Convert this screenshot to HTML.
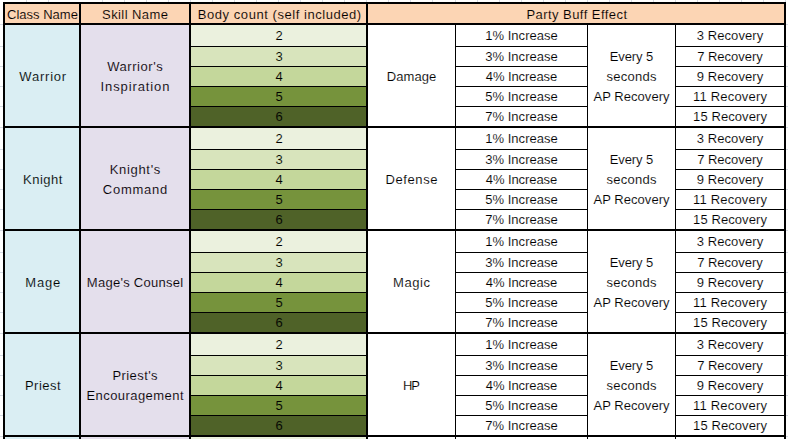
<!DOCTYPE html>
<html lang="en">
<head>
<meta charset="utf-8">
<title>Party Buff Effect</title>
<style>
html,body{margin:0;padding:0;}
body{width:788px;height:439px;overflow:hidden;background:#fff;position:relative;
 font-family:"Liberation Sans",sans-serif;font-size:13px;color:#000;}
.c{--bg:#fff;background:var(--bg);-webkit-text-stroke:0.12px var(--bg);position:absolute;display:flex;align-items:center;justify-content:center;text-align:center;white-space:nowrap;line-height:20px;}
.l{position:absolute;background:#000;}
.g{position:absolute;background:#d6dbe4;}
.hd{--bg:#FCD5B4;}
.cl{--bg:#DAEEF3;}
.sk{--bg:#E4DFEC;}
.d1{position:relative;top:1px;}
</style>
</head>
<body>
<div class="c hd" style="left:5px;top:4px;width:74px;height:19px;"><div class="d1" style="padding-left:1.0px">Class Name</div></div>
<div class="c hd" style="left:81px;top:4px;width:108px;height:19px;"><div class="d1"><span style="letter-spacing:0.41px;margin-right:-0.41px">Skill Name</span></div></div>
<div class="c hd" style="left:191px;top:4px;width:175px;height:19px;"><div class="d1" style="padding-left:2px"><span style="letter-spacing:0.55px;margin-right:-0.55px">Body count (self included)</span></div></div>
<div class="c hd" style="left:368px;top:4px;width:416px;height:19px;"><div class="d1" style="padding-left:1.5px"><span style="letter-spacing:0.44px;margin-right:-0.44px">Party Buff Effect</span></div></div>
<div class="c cl" style="left:5px;top:25px;width:74px;height:101px;"><div class="d1" style="padding-left:1.5px"><span style="letter-spacing:0.79px;margin-right:-0.79px">Warrior</span></div></div>
<div class="c sk" style="left:81px;top:25px;width:108px;height:101px;"><div class="d1"><span style="letter-spacing:0.56px;margin-right:-0.56px">Warrior's</span><br><span style="letter-spacing:0.88px;margin-right:-0.88px">Inspiration</span></div></div>
<div class="c " style="left:191px;top:25px;width:175px;height:21px;--bg:#EBF1DE;"><div style="padding-left:1.0px">2</div></div>
<div class="c " style="left:456px;top:25px;width:131px;height:21px;"><div><span style="letter-spacing:0.02px;margin-right:-0.02px">1% Increase</span></div></div>
<div class="c " style="left:676px;top:25px;width:108px;height:21px;"><div><span style="letter-spacing:0.06px;margin-right:-0.06px">3 Recovery</span></div></div>
<div class="c " style="left:191px;top:47px;width:175px;height:19px;--bg:#D8E4BC;"><div style="padding-left:1.0px">3</div></div>
<div class="c " style="left:456px;top:47px;width:131px;height:19px;"><div><span style="letter-spacing:0.02px;margin-right:-0.02px">3% Increase</span></div></div>
<div class="c " style="left:676px;top:47px;width:108px;height:19px;"><div><span style="letter-spacing:-0.02px;margin-right:0.02px">7 Recovery</span></div></div>
<div class="c " style="left:191px;top:67px;width:175px;height:19px;--bg:#C4D79B;"><div style="padding-left:1.0px">4</div></div>
<div class="c " style="left:456px;top:67px;width:131px;height:19px;"><div><span style="letter-spacing:-0.08px;margin-right:0.08px">4% Increase</span></div></div>
<div class="c " style="left:676px;top:67px;width:108px;height:19px;"><div><span style="letter-spacing:0.06px;margin-right:-0.06px">9 Recovery</span></div></div>
<div class="c " style="left:191px;top:87px;width:175px;height:19px;--bg:#76933C;"><div style="padding-left:1.0px">5</div></div>
<div class="c " style="left:456px;top:87px;width:131px;height:19px;"><div><span style="letter-spacing:0.02px;margin-right:-0.02px">5% Increase</span></div></div>
<div class="c " style="left:676px;top:87px;width:108px;height:19px;"><div><span style="letter-spacing:0.18px;margin-right:-0.18px">11 Recovery</span></div></div>
<div class="c " style="left:191px;top:107px;width:175px;height:19px;--bg:#4F6228;"><div style="padding-left:1.0px">6</div></div>
<div class="c " style="left:456px;top:107px;width:131px;height:19px;"><div><span style="letter-spacing:0.02px;margin-right:-0.02px">7% Increase</span></div></div>
<div class="c " style="left:676px;top:107px;width:108px;height:19px;"><div><span style="letter-spacing:0.08px;margin-right:-0.08px">15 Recovery</span></div></div>
<div class="c " style="left:368px;top:25px;width:87px;height:101px;"><div class="d1"><span style="letter-spacing:0.1px;margin-right:-0.1px">Damage</span></div></div>
<div class="c " style="left:588px;top:25px;width:87px;height:101px;"><div class="d1"><span style="letter-spacing:-0.12px;margin-right:0.12px">Every 5</span><br><span style="letter-spacing:0.27px;margin-right:-0.27px">seconds</span><br><span style="letter-spacing:0.05px;margin-right:-0.05px">AP Recovery</span></div></div>
<div class="c cl" style="left:5px;top:128px;width:74px;height:101px;"><div class="d1" style="padding-left:1.5px"><span style="letter-spacing:0.5px;margin-right:-0.5px">Knight</span></div></div>
<div class="c sk" style="left:81px;top:128px;width:108px;height:101px;"><div class="d1"><span style="letter-spacing:0.68px;margin-right:-0.68px">Knight's</span><br><span style="letter-spacing:0.75px;margin-right:-0.75px">Command</span></div></div>
<div class="c " style="left:191px;top:128px;width:175px;height:21px;--bg:#EBF1DE;"><div style="padding-left:1.0px">2</div></div>
<div class="c " style="left:456px;top:128px;width:131px;height:21px;"><div><span style="letter-spacing:0.02px;margin-right:-0.02px">1% Increase</span></div></div>
<div class="c " style="left:676px;top:128px;width:108px;height:21px;"><div><span style="letter-spacing:0.06px;margin-right:-0.06px">3 Recovery</span></div></div>
<div class="c " style="left:191px;top:150px;width:175px;height:19px;--bg:#D8E4BC;"><div style="padding-left:1.0px">3</div></div>
<div class="c " style="left:456px;top:150px;width:131px;height:19px;"><div><span style="letter-spacing:0.02px;margin-right:-0.02px">3% Increase</span></div></div>
<div class="c " style="left:676px;top:150px;width:108px;height:19px;"><div><span style="letter-spacing:-0.02px;margin-right:0.02px">7 Recovery</span></div></div>
<div class="c " style="left:191px;top:170px;width:175px;height:19px;--bg:#C4D79B;"><div style="padding-left:1.0px">4</div></div>
<div class="c " style="left:456px;top:170px;width:131px;height:19px;"><div><span style="letter-spacing:-0.08px;margin-right:0.08px">4% Increase</span></div></div>
<div class="c " style="left:676px;top:170px;width:108px;height:19px;"><div><span style="letter-spacing:0.06px;margin-right:-0.06px">9 Recovery</span></div></div>
<div class="c " style="left:191px;top:190px;width:175px;height:19px;--bg:#76933C;"><div style="padding-left:1.0px">5</div></div>
<div class="c " style="left:456px;top:190px;width:131px;height:19px;"><div><span style="letter-spacing:0.02px;margin-right:-0.02px">5% Increase</span></div></div>
<div class="c " style="left:676px;top:190px;width:108px;height:19px;"><div><span style="letter-spacing:0.18px;margin-right:-0.18px">11 Recovery</span></div></div>
<div class="c " style="left:191px;top:210px;width:175px;height:19px;--bg:#4F6228;"><div style="padding-left:1.0px">6</div></div>
<div class="c " style="left:456px;top:210px;width:131px;height:19px;"><div><span style="letter-spacing:0.02px;margin-right:-0.02px">7% Increase</span></div></div>
<div class="c " style="left:676px;top:210px;width:108px;height:19px;"><div><span style="letter-spacing:0.08px;margin-right:-0.08px">15 Recovery</span></div></div>
<div class="c " style="left:368px;top:128px;width:87px;height:101px;"><div class="d1"><span style="letter-spacing:0.6px;margin-right:-0.6px">Defense</span></div></div>
<div class="c " style="left:588px;top:128px;width:87px;height:101px;"><div class="d1"><span style="letter-spacing:-0.12px;margin-right:0.12px">Every 5</span><br><span style="letter-spacing:0.27px;margin-right:-0.27px">seconds</span><br><span style="letter-spacing:0.05px;margin-right:-0.05px">AP Recovery</span></div></div>
<div class="c cl" style="left:5px;top:231px;width:74px;height:101px;"><div class="d1" style="padding-left:1.5px"><span style="letter-spacing:0.75px;margin-right:-0.75px">Mage</span></div></div>
<div class="c sk" style="left:81px;top:231px;width:108px;height:101px;"><div class="d1"><span style="letter-spacing:0.27px;margin-right:-0.27px">Mage's Counsel</span></div></div>
<div class="c " style="left:191px;top:231px;width:175px;height:21px;--bg:#EBF1DE;"><div style="padding-left:1.0px">2</div></div>
<div class="c " style="left:456px;top:231px;width:131px;height:21px;"><div><span style="letter-spacing:0.02px;margin-right:-0.02px">1% Increase</span></div></div>
<div class="c " style="left:676px;top:231px;width:108px;height:21px;"><div><span style="letter-spacing:0.06px;margin-right:-0.06px">3 Recovery</span></div></div>
<div class="c " style="left:191px;top:253px;width:175px;height:19px;--bg:#D8E4BC;"><div style="padding-left:1.0px">3</div></div>
<div class="c " style="left:456px;top:253px;width:131px;height:19px;"><div><span style="letter-spacing:0.02px;margin-right:-0.02px">3% Increase</span></div></div>
<div class="c " style="left:676px;top:253px;width:108px;height:19px;"><div><span style="letter-spacing:-0.02px;margin-right:0.02px">7 Recovery</span></div></div>
<div class="c " style="left:191px;top:273px;width:175px;height:19px;--bg:#C4D79B;"><div style="padding-left:1.0px">4</div></div>
<div class="c " style="left:456px;top:273px;width:131px;height:19px;"><div><span style="letter-spacing:-0.08px;margin-right:0.08px">4% Increase</span></div></div>
<div class="c " style="left:676px;top:273px;width:108px;height:19px;"><div><span style="letter-spacing:0.06px;margin-right:-0.06px">9 Recovery</span></div></div>
<div class="c " style="left:191px;top:293px;width:175px;height:19px;--bg:#76933C;"><div style="padding-left:1.0px">5</div></div>
<div class="c " style="left:456px;top:293px;width:131px;height:19px;"><div><span style="letter-spacing:0.02px;margin-right:-0.02px">5% Increase</span></div></div>
<div class="c " style="left:676px;top:293px;width:108px;height:19px;"><div><span style="letter-spacing:0.18px;margin-right:-0.18px">11 Recovery</span></div></div>
<div class="c " style="left:191px;top:313px;width:175px;height:19px;--bg:#4F6228;"><div style="padding-left:1.0px">6</div></div>
<div class="c " style="left:456px;top:313px;width:131px;height:19px;"><div><span style="letter-spacing:0.02px;margin-right:-0.02px">7% Increase</span></div></div>
<div class="c " style="left:676px;top:313px;width:108px;height:19px;"><div><span style="letter-spacing:0.08px;margin-right:-0.08px">15 Recovery</span></div></div>
<div class="c " style="left:368px;top:231px;width:87px;height:101px;"><div class="d1"><span style="letter-spacing:0.6px;margin-right:-0.6px">Magic</span></div></div>
<div class="c " style="left:588px;top:231px;width:87px;height:101px;"><div class="d1"><span style="letter-spacing:-0.12px;margin-right:0.12px">Every 5</span><br><span style="letter-spacing:0.27px;margin-right:-0.27px">seconds</span><br><span style="letter-spacing:0.05px;margin-right:-0.05px">AP Recovery</span></div></div>
<div class="c cl" style="left:5px;top:334px;width:74px;height:101px;"><div class="d1" style="padding-left:1.5px"><span style="letter-spacing:0.5px;margin-right:-0.5px">Priest</span></div></div>
<div class="c sk" style="left:81px;top:334px;width:108px;height:101px;"><div class="d1"><span style="letter-spacing:0.43px;margin-right:-0.43px">Priest's</span><br><span style="letter-spacing:0.44px;margin-right:-0.44px">Encouragement</span></div></div>
<div class="c " style="left:191px;top:334px;width:175px;height:21px;--bg:#EBF1DE;"><div style="padding-left:1.0px">2</div></div>
<div class="c " style="left:456px;top:334px;width:131px;height:21px;"><div><span style="letter-spacing:0.02px;margin-right:-0.02px">1% Increase</span></div></div>
<div class="c " style="left:676px;top:334px;width:108px;height:21px;"><div><span style="letter-spacing:0.06px;margin-right:-0.06px">3 Recovery</span></div></div>
<div class="c " style="left:191px;top:356px;width:175px;height:19px;--bg:#D8E4BC;"><div style="padding-left:1.0px">3</div></div>
<div class="c " style="left:456px;top:356px;width:131px;height:19px;"><div><span style="letter-spacing:0.02px;margin-right:-0.02px">3% Increase</span></div></div>
<div class="c " style="left:676px;top:356px;width:108px;height:19px;"><div><span style="letter-spacing:-0.02px;margin-right:0.02px">7 Recovery</span></div></div>
<div class="c " style="left:191px;top:376px;width:175px;height:19px;--bg:#C4D79B;"><div style="padding-left:1.0px">4</div></div>
<div class="c " style="left:456px;top:376px;width:131px;height:19px;"><div><span style="letter-spacing:-0.08px;margin-right:0.08px">4% Increase</span></div></div>
<div class="c " style="left:676px;top:376px;width:108px;height:19px;"><div><span style="letter-spacing:0.06px;margin-right:-0.06px">9 Recovery</span></div></div>
<div class="c " style="left:191px;top:396px;width:175px;height:19px;--bg:#76933C;"><div style="padding-left:1.0px">5</div></div>
<div class="c " style="left:456px;top:396px;width:131px;height:19px;"><div><span style="letter-spacing:0.02px;margin-right:-0.02px">5% Increase</span></div></div>
<div class="c " style="left:676px;top:396px;width:108px;height:19px;"><div><span style="letter-spacing:0.18px;margin-right:-0.18px">11 Recovery</span></div></div>
<div class="c " style="left:191px;top:416px;width:175px;height:19px;--bg:#4F6228;"><div style="padding-left:1.0px">6</div></div>
<div class="c " style="left:456px;top:416px;width:131px;height:19px;"><div><span style="letter-spacing:0.02px;margin-right:-0.02px">7% Increase</span></div></div>
<div class="c " style="left:676px;top:416px;width:108px;height:19px;"><div><span style="letter-spacing:0.08px;margin-right:-0.08px">15 Recovery</span></div></div>
<div class="c " style="left:368px;top:334px;width:87px;height:101px;"><div class="d1"><span style="letter-spacing:-1.0px;margin-right:1.0px">HP</span></div></div>
<div class="c " style="left:588px;top:334px;width:87px;height:101px;"><div class="d1"><span style="letter-spacing:-0.12px;margin-right:0.12px">Every 5</span><br><span style="letter-spacing:0.27px;margin-right:-0.27px">seconds</span><br><span style="letter-spacing:0.05px;margin-right:-0.05px">AP Recovery</span></div></div>
<div class="c cl" style="left:5px;top:437px;width:74px;height:101px;"><div class="d1" style="padding-left:1.5px"></div></div>
<div class="c sk" style="left:81px;top:437px;width:108px;height:101px;"><div class="d1"></div></div>
<div class="c " style="left:191px;top:437px;width:175px;height:21px;--bg:#EBF1DE;"><div></div></div>
<div class="c " style="left:191px;top:459px;width:175px;height:19px;--bg:#D8E4BC;"><div></div></div>
<div class="c " style="left:191px;top:479px;width:175px;height:19px;--bg:#C4D79B;"><div></div></div>
<div class="c " style="left:191px;top:499px;width:175px;height:19px;--bg:#76933C;"><div></div></div>
<div class="c " style="left:191px;top:519px;width:175px;height:19px;--bg:#4F6228;"><div></div></div>
<div class="g" style="left:26px;top:0px;width:1px;height:2px"></div>
<div class="g" style="left:48px;top:0px;width:1px;height:2px"></div>
<div class="g" style="left:102px;top:0px;width:1px;height:2px"></div>
<div class="g" style="left:124px;top:0px;width:1px;height:2px"></div>
<div class="g" style="left:146px;top:0px;width:1px;height:2px"></div>
<div class="g" style="left:168px;top:0px;width:1px;height:2px"></div>
<div class="g" style="left:190px;top:0px;width:1px;height:2px"></div>
<div class="g" style="left:212px;top:0px;width:1px;height:2px"></div>
<div class="g" style="left:234px;top:0px;width:1px;height:2px"></div>
<div class="g" style="left:256px;top:0px;width:1px;height:2px"></div>
<div class="g" style="left:278px;top:0px;width:1px;height:2px"></div>
<div class="g" style="left:300px;top:0px;width:1px;height:2px"></div>
<div class="g" style="left:322px;top:0px;width:1px;height:2px"></div>
<div class="g" style="left:344px;top:0px;width:1px;height:2px"></div>
<div class="g" style="left:366px;top:0px;width:1px;height:2px"></div>
<div class="g" style="left:388px;top:0px;width:1px;height:2px"></div>
<div class="g" style="left:410px;top:0px;width:1px;height:2px"></div>
<div class="g" style="left:432px;top:0px;width:1px;height:2px"></div>
<div class="g" style="left:455px;top:0px;width:1px;height:2px"></div>
<div class="g" style="left:477px;top:0px;width:1px;height:2px"></div>
<div class="g" style="left:499px;top:0px;width:1px;height:2px"></div>
<div class="g" style="left:521px;top:0px;width:1px;height:2px"></div>
<div class="g" style="left:543px;top:0px;width:1px;height:2px"></div>
<div class="g" style="left:565px;top:0px;width:1px;height:2px"></div>
<div class="g" style="left:587px;top:0px;width:1px;height:2px"></div>
<div class="g" style="left:609px;top:0px;width:1px;height:2px"></div>
<div class="g" style="left:631px;top:0px;width:1px;height:2px"></div>
<div class="g" style="left:653px;top:0px;width:1px;height:2px"></div>
<div class="g" style="left:675px;top:0px;width:1px;height:2px"></div>
<div class="g" style="left:697px;top:0px;width:1px;height:2px"></div>
<div class="g" style="left:719px;top:0px;width:1px;height:2px"></div>
<div class="g" style="left:741px;top:0px;width:1px;height:2px"></div>
<div class="g" style="left:763px;top:0px;width:1px;height:2px"></div>
<div class="g" style="left:785px;top:0px;width:1px;height:2px"></div>
<div class="g" style="left:0px;top:24px;width:3px;height:1px"></div>
<div class="g" style="left:786px;top:24px;width:2px;height:1px"></div>
<div class="g" style="left:0px;top:46px;width:3px;height:1px"></div>
<div class="g" style="left:786px;top:46px;width:2px;height:1px"></div>
<div class="g" style="left:0px;top:66px;width:3px;height:1px"></div>
<div class="g" style="left:786px;top:66px;width:2px;height:1px"></div>
<div class="g" style="left:0px;top:86px;width:3px;height:1px"></div>
<div class="g" style="left:786px;top:86px;width:2px;height:1px"></div>
<div class="g" style="left:0px;top:106px;width:3px;height:1px"></div>
<div class="g" style="left:786px;top:106px;width:2px;height:1px"></div>
<div class="g" style="left:0px;top:127px;width:3px;height:1px"></div>
<div class="g" style="left:786px;top:127px;width:2px;height:1px"></div>
<div class="g" style="left:0px;top:149px;width:3px;height:1px"></div>
<div class="g" style="left:786px;top:149px;width:2px;height:1px"></div>
<div class="g" style="left:0px;top:169px;width:3px;height:1px"></div>
<div class="g" style="left:786px;top:169px;width:2px;height:1px"></div>
<div class="g" style="left:0px;top:189px;width:3px;height:1px"></div>
<div class="g" style="left:786px;top:189px;width:2px;height:1px"></div>
<div class="g" style="left:0px;top:209px;width:3px;height:1px"></div>
<div class="g" style="left:786px;top:209px;width:2px;height:1px"></div>
<div class="g" style="left:0px;top:230px;width:3px;height:1px"></div>
<div class="g" style="left:786px;top:230px;width:2px;height:1px"></div>
<div class="g" style="left:0px;top:252px;width:3px;height:1px"></div>
<div class="g" style="left:786px;top:252px;width:2px;height:1px"></div>
<div class="g" style="left:0px;top:272px;width:3px;height:1px"></div>
<div class="g" style="left:786px;top:272px;width:2px;height:1px"></div>
<div class="g" style="left:0px;top:292px;width:3px;height:1px"></div>
<div class="g" style="left:786px;top:292px;width:2px;height:1px"></div>
<div class="g" style="left:0px;top:312px;width:3px;height:1px"></div>
<div class="g" style="left:786px;top:312px;width:2px;height:1px"></div>
<div class="g" style="left:0px;top:333px;width:3px;height:1px"></div>
<div class="g" style="left:786px;top:333px;width:2px;height:1px"></div>
<div class="g" style="left:0px;top:355px;width:3px;height:1px"></div>
<div class="g" style="left:786px;top:355px;width:2px;height:1px"></div>
<div class="g" style="left:0px;top:375px;width:3px;height:1px"></div>
<div class="g" style="left:786px;top:375px;width:2px;height:1px"></div>
<div class="g" style="left:0px;top:395px;width:3px;height:1px"></div>
<div class="g" style="left:786px;top:395px;width:2px;height:1px"></div>
<div class="g" style="left:0px;top:415px;width:3px;height:1px"></div>
<div class="g" style="left:786px;top:415px;width:2px;height:1px"></div>
<div class="g" style="left:0px;top:436px;width:3px;height:1px"></div>
<div class="g" style="left:786px;top:436px;width:2px;height:1px"></div>
<div class="l" style="left:3px;top:2px;width:2px;height:439px"></div>
<div class="l" style="left:79px;top:2px;width:2px;height:439px"></div>
<div class="l" style="left:189px;top:2px;width:2px;height:439px"></div>
<div class="l" style="left:366px;top:2px;width:2px;height:439px"></div>
<div class="l" style="left:784px;top:2px;width:2px;height:439px"></div>
<div class="l" style="left:455px;top:25px;width:1px;height:439px"></div>
<div class="l" style="left:587px;top:25px;width:1px;height:439px"></div>
<div class="l" style="left:675px;top:25px;width:1px;height:439px"></div>
<div class="l" style="left:3px;top:2px;width:783px;height:2px"></div>
<div class="l" style="left:3px;top:23px;width:783px;height:2px"></div>
<div class="l" style="left:3px;top:126px;width:783px;height:2px"></div>
<div class="l" style="left:191px;top:46px;width:175px;height:1px"></div>
<div class="l" style="left:455px;top:46px;width:133px;height:1px"></div>
<div class="l" style="left:675px;top:46px;width:109px;height:1px"></div>
<div class="l" style="left:191px;top:66px;width:175px;height:1px"></div>
<div class="l" style="left:455px;top:66px;width:133px;height:1px"></div>
<div class="l" style="left:675px;top:66px;width:109px;height:1px"></div>
<div class="l" style="left:191px;top:86px;width:175px;height:1px"></div>
<div class="l" style="left:455px;top:86px;width:133px;height:1px"></div>
<div class="l" style="left:675px;top:86px;width:109px;height:1px"></div>
<div class="l" style="left:191px;top:106px;width:175px;height:1px"></div>
<div class="l" style="left:455px;top:106px;width:133px;height:1px"></div>
<div class="l" style="left:675px;top:106px;width:109px;height:1px"></div>
<div class="l" style="left:3px;top:229px;width:783px;height:2px"></div>
<div class="l" style="left:191px;top:149px;width:175px;height:1px"></div>
<div class="l" style="left:455px;top:149px;width:133px;height:1px"></div>
<div class="l" style="left:675px;top:149px;width:109px;height:1px"></div>
<div class="l" style="left:191px;top:169px;width:175px;height:1px"></div>
<div class="l" style="left:455px;top:169px;width:133px;height:1px"></div>
<div class="l" style="left:675px;top:169px;width:109px;height:1px"></div>
<div class="l" style="left:191px;top:189px;width:175px;height:1px"></div>
<div class="l" style="left:455px;top:189px;width:133px;height:1px"></div>
<div class="l" style="left:675px;top:189px;width:109px;height:1px"></div>
<div class="l" style="left:191px;top:209px;width:175px;height:1px"></div>
<div class="l" style="left:455px;top:209px;width:133px;height:1px"></div>
<div class="l" style="left:675px;top:209px;width:109px;height:1px"></div>
<div class="l" style="left:3px;top:332px;width:783px;height:2px"></div>
<div class="l" style="left:191px;top:252px;width:175px;height:1px"></div>
<div class="l" style="left:455px;top:252px;width:133px;height:1px"></div>
<div class="l" style="left:675px;top:252px;width:109px;height:1px"></div>
<div class="l" style="left:191px;top:272px;width:175px;height:1px"></div>
<div class="l" style="left:455px;top:272px;width:133px;height:1px"></div>
<div class="l" style="left:675px;top:272px;width:109px;height:1px"></div>
<div class="l" style="left:191px;top:292px;width:175px;height:1px"></div>
<div class="l" style="left:455px;top:292px;width:133px;height:1px"></div>
<div class="l" style="left:675px;top:292px;width:109px;height:1px"></div>
<div class="l" style="left:191px;top:312px;width:175px;height:1px"></div>
<div class="l" style="left:455px;top:312px;width:133px;height:1px"></div>
<div class="l" style="left:675px;top:312px;width:109px;height:1px"></div>
<div class="l" style="left:3px;top:435px;width:783px;height:2px"></div>
<div class="l" style="left:191px;top:355px;width:175px;height:1px"></div>
<div class="l" style="left:455px;top:355px;width:133px;height:1px"></div>
<div class="l" style="left:675px;top:355px;width:109px;height:1px"></div>
<div class="l" style="left:191px;top:375px;width:175px;height:1px"></div>
<div class="l" style="left:455px;top:375px;width:133px;height:1px"></div>
<div class="l" style="left:675px;top:375px;width:109px;height:1px"></div>
<div class="l" style="left:191px;top:395px;width:175px;height:1px"></div>
<div class="l" style="left:455px;top:395px;width:133px;height:1px"></div>
<div class="l" style="left:675px;top:395px;width:109px;height:1px"></div>
<div class="l" style="left:191px;top:415px;width:175px;height:1px"></div>
<div class="l" style="left:455px;top:415px;width:133px;height:1px"></div>
<div class="l" style="left:675px;top:415px;width:109px;height:1px"></div>
<div class="l" style="left:3px;top:538px;width:783px;height:2px"></div>
<div class="l" style="left:191px;top:458px;width:175px;height:1px"></div>
<div class="l" style="left:455px;top:458px;width:133px;height:1px"></div>
<div class="l" style="left:675px;top:458px;width:109px;height:1px"></div>
<div class="l" style="left:191px;top:478px;width:175px;height:1px"></div>
<div class="l" style="left:455px;top:478px;width:133px;height:1px"></div>
<div class="l" style="left:675px;top:478px;width:109px;height:1px"></div>
<div class="l" style="left:191px;top:498px;width:175px;height:1px"></div>
<div class="l" style="left:455px;top:498px;width:133px;height:1px"></div>
<div class="l" style="left:675px;top:498px;width:109px;height:1px"></div>
<div class="l" style="left:191px;top:518px;width:175px;height:1px"></div>
<div class="l" style="left:455px;top:518px;width:133px;height:1px"></div>
<div class="l" style="left:675px;top:518px;width:109px;height:1px"></div>
</body>
</html>
